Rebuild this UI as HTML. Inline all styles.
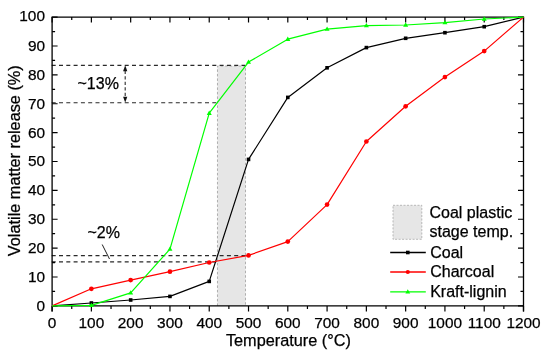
<!DOCTYPE html><html><head><meta charset="utf-8"><title>Volatile matter release</title><style>html,body{margin:0;padding:0;background:#fff}svg{display:block}text{font-family:"Liberation Sans", Arial, sans-serif;fill:#000;stroke:#000;stroke-width:0.25px}</style></head><body>
<svg width="550" height="356" viewBox="0 0 550 356">
<rect width="550" height="356" fill="#fff"/>
<rect x="217.48" y="66.05" width="28.01" height="239.85" fill="#e6e6e6"/>
<path d="M217.48 305.90V66.05H245.49V305.90" stroke="#a6a6a6" stroke-width="0.9" stroke-dasharray="2.5 2" fill="none"/>
<path d="M51.70 65.33H245.49" stroke="#2a2a2a" stroke-width="1.15" stroke-dasharray="4 3.3" fill="none"/>
<path d="M51.70 102.70H217.48" stroke="#2a2a2a" stroke-width="1.15" stroke-dasharray="4 3.3" fill="none"/>
<path d="M51.70 255.65H248.52" stroke="#2a2a2a" stroke-width="1.15" stroke-dasharray="4 3.3" fill="none"/>
<path d="M51.70 261.86H216.30" stroke="#2a2a2a" stroke-width="1.15" stroke-dasharray="4 3.3" fill="none"/>
<path d="M125.20 70.83V97.58" stroke="#333" stroke-width="1.15" stroke-dasharray="3.2 2.3" fill="none"/>
<path d="M125.20 65.33l-2.1 5.8h4.2z" fill="#111"/>
<path d="M125.20 102.58l-2.1 -5.8h4.2z" fill="#111"/>
<text x="77.5" y="89.3" font-size="16">~13%</text>
<text x="87.5" y="237.5" font-size="16">~2%</text>
<path d="M102.2 244.5L109.5 259" stroke="#222" stroke-width="1" fill="none"/>
<path d="M52.10 16.45V311.40M523.50 16.45V311.40M52.10 17.10H523.50M52.10 305.90H523.50" stroke="#000" stroke-width="1.3" fill="none"/>
<path d="M52.10 305.90v5.50M52.10 17.10v5.50M71.74 305.90v3.00M71.74 17.10v3.00M91.38 305.90v5.50M91.38 17.10v5.50M111.03 305.90v3.00M111.03 17.10v3.00M130.67 305.90v5.50M130.67 17.10v5.50M150.31 305.90v3.00M150.31 17.10v3.00M169.95 305.90v5.50M169.95 17.10v5.50M189.59 305.90v3.00M189.59 17.10v3.00M209.23 305.90v5.50M209.23 17.10v5.50M228.88 305.90v3.00M228.88 17.10v3.00M248.52 305.90v5.50M248.52 17.10v5.50M268.16 305.90v3.00M268.16 17.10v3.00M287.80 305.90v5.50M287.80 17.10v5.50M307.44 305.90v3.00M307.44 17.10v3.00M327.08 305.90v5.50M327.08 17.10v5.50M346.73 305.90v3.00M346.73 17.10v3.00M366.37 305.90v5.50M366.37 17.10v5.50M386.01 305.90v3.00M386.01 17.10v3.00M405.65 305.90v5.50M405.65 17.10v5.50M425.29 305.90v3.00M425.29 17.10v3.00M444.93 305.90v5.50M444.93 17.10v5.50M464.58 305.90v3.00M464.58 17.10v3.00M484.22 305.90v5.50M484.22 17.10v5.50M503.86 305.90v3.00M503.86 17.10v3.00M523.50 305.90v5.50M523.50 17.10v5.50M52.10 305.90h5.50M523.50 305.90h-5.50M52.10 291.46h3.00M523.50 291.46h-3.00M52.10 277.02h5.50M523.50 277.02h-5.50M52.10 262.58h3.00M523.50 262.58h-3.00M52.10 248.14h5.50M523.50 248.14h-5.50M52.10 233.70h3.00M523.50 233.70h-3.00M52.10 219.26h5.50M523.50 219.26h-5.50M52.10 204.82h3.00M523.50 204.82h-3.00M52.10 190.38h5.50M523.50 190.38h-5.50M52.10 175.94h3.00M523.50 175.94h-3.00M52.10 161.50h5.50M523.50 161.50h-5.50M52.10 147.06h3.00M523.50 147.06h-3.00M52.10 132.62h5.50M523.50 132.62h-5.50M52.10 118.18h3.00M523.50 118.18h-3.00M52.10 103.74h5.50M523.50 103.74h-5.50M52.10 89.30h3.00M523.50 89.30h-3.00M52.10 74.86h5.50M523.50 74.86h-5.50M52.10 60.42h3.00M523.50 60.42h-3.00M52.10 45.98h5.50M523.50 45.98h-5.50M52.10 31.54h3.00M523.50 31.54h-3.00M52.10 17.10h5.50M523.50 17.10h-5.50" stroke="#000" stroke-width="1.2" fill="none"/>
<polyline points="52.10,305.90 91.38,303.00 130.67,300.00 169.95,296.40 209.23,281.40 248.52,159.40 287.80,97.40 327.08,67.80 366.37,47.60 405.65,38.30 444.93,32.70 484.22,26.70 523.50,17.10" fill="none" stroke="#000" stroke-width="1.2" stroke-linejoin="round"/>
<rect x="89.58" y="301.20" width="3.6" height="3.6" fill="#000"/>
<rect x="128.87" y="298.20" width="3.6" height="3.6" fill="#000"/>
<rect x="168.15" y="294.60" width="3.6" height="3.6" fill="#000"/>
<rect x="207.43" y="279.60" width="3.6" height="3.6" fill="#000"/>
<rect x="246.72" y="157.60" width="3.6" height="3.6" fill="#000"/>
<rect x="286.00" y="95.60" width="3.6" height="3.6" fill="#000"/>
<rect x="325.28" y="66.00" width="3.6" height="3.6" fill="#000"/>
<rect x="364.57" y="45.80" width="3.6" height="3.6" fill="#000"/>
<rect x="403.85" y="36.50" width="3.6" height="3.6" fill="#000"/>
<rect x="443.13" y="30.90" width="3.6" height="3.6" fill="#000"/>
<rect x="482.42" y="24.90" width="3.6" height="3.6" fill="#000"/>
<polyline points="52.10,305.90 91.38,288.80 130.67,280.10 169.95,271.70 209.23,262.50 248.52,255.40 287.80,241.60 327.08,204.60 366.37,141.50 405.65,106.30 444.93,77.10 484.22,51.10 523.50,17.10" fill="none" stroke="#ff0000" stroke-width="1.2" stroke-linejoin="round"/>
<circle cx="91.38" cy="288.80" r="2.35" fill="#ff0000"/>
<circle cx="130.67" cy="280.10" r="2.35" fill="#ff0000"/>
<circle cx="169.95" cy="271.70" r="2.35" fill="#ff0000"/>
<circle cx="209.23" cy="262.50" r="2.35" fill="#ff0000"/>
<circle cx="248.52" cy="255.40" r="2.35" fill="#ff0000"/>
<circle cx="287.80" cy="241.60" r="2.35" fill="#ff0000"/>
<circle cx="327.08" cy="204.60" r="2.35" fill="#ff0000"/>
<circle cx="366.37" cy="141.50" r="2.35" fill="#ff0000"/>
<circle cx="405.65" cy="106.30" r="2.35" fill="#ff0000"/>
<circle cx="444.93" cy="77.10" r="2.35" fill="#ff0000"/>
<circle cx="484.22" cy="51.10" r="2.35" fill="#ff0000"/>
<polyline points="52.10,305.90 91.38,305.40 130.67,292.90 169.95,249.10 209.23,113.20 248.52,62.10 287.80,39.20 327.08,29.10 366.37,25.60 405.65,25.00 444.93,22.60 484.22,19.00 523.50,17.10" fill="none" stroke="#00ff00" stroke-width="1.2" stroke-linejoin="round"/>
<path d="M91.38 302.70l2.5 4.4h-5z" fill="#00ff00"/>
<path d="M130.67 290.20l2.5 4.4h-5z" fill="#00ff00"/>
<path d="M169.95 246.40l2.5 4.4h-5z" fill="#00ff00"/>
<path d="M209.23 110.50l2.5 4.4h-5z" fill="#00ff00"/>
<path d="M248.52 59.40l2.5 4.4h-5z" fill="#00ff00"/>
<path d="M287.80 36.50l2.5 4.4h-5z" fill="#00ff00"/>
<path d="M327.08 26.40l2.5 4.4h-5z" fill="#00ff00"/>
<path d="M366.37 22.90l2.5 4.4h-5z" fill="#00ff00"/>
<path d="M405.65 22.30l2.5 4.4h-5z" fill="#00ff00"/>
<path d="M444.93 19.90l2.5 4.4h-5z" fill="#00ff00"/>
<path d="M484.22 16.30l2.5 4.4h-5z" fill="#00ff00"/>
<text x="52.10" y="328" font-size="15.4" text-anchor="middle">0</text>
<text x="91.38" y="328" font-size="15.4" text-anchor="middle">100</text>
<text x="130.67" y="328" font-size="15.4" text-anchor="middle">200</text>
<text x="169.95" y="328" font-size="15.4" text-anchor="middle">300</text>
<text x="209.23" y="328" font-size="15.4" text-anchor="middle">400</text>
<text x="248.52" y="328" font-size="15.4" text-anchor="middle">500</text>
<text x="287.80" y="328" font-size="15.4" text-anchor="middle">600</text>
<text x="327.08" y="328" font-size="15.4" text-anchor="middle">700</text>
<text x="366.37" y="328" font-size="15.4" text-anchor="middle">800</text>
<text x="405.65" y="328" font-size="15.4" text-anchor="middle">900</text>
<text x="444.93" y="328" font-size="15.4" text-anchor="middle">1000</text>
<text x="484.22" y="328" font-size="15.4" text-anchor="middle">1100</text>
<text x="523.50" y="328" font-size="15.4" text-anchor="middle">1200</text>
<text x="45.0" y="311.00" font-size="15.4" text-anchor="end">0</text>
<text x="45.0" y="282.00" font-size="15.4" text-anchor="end">10</text>
<text x="45.0" y="253.00" font-size="15.4" text-anchor="end">20</text>
<text x="45.0" y="224.00" font-size="15.4" text-anchor="end">30</text>
<text x="45.0" y="195.00" font-size="15.4" text-anchor="end">40</text>
<text x="45.0" y="166.00" font-size="15.4" text-anchor="end">50</text>
<text x="45.0" y="138.00" font-size="15.4" text-anchor="end">60</text>
<text x="45.0" y="109.00" font-size="15.4" text-anchor="end">70</text>
<text x="45.0" y="80.00" font-size="15.4" text-anchor="end">80</text>
<text x="45.0" y="51.00" font-size="15.4" text-anchor="end">90</text>
<text x="45.0" y="21.00" font-size="15.4" text-anchor="end">100</text>
<text x="288.4" y="346" font-size="16.3" text-anchor="middle">Temperature (°C)</text>
<text transform="translate(19.9 160.7) rotate(-90)" font-size="16.3" text-anchor="middle">Volatile matter release (%)</text>
<rect x="393" y="205.3" width="28.8" height="34" fill="#e6e6e6" stroke="#a8a8a8" stroke-width="0.8" stroke-dasharray="2 1.5"/>
<text x="429.5" y="217.6" font-size="16">Coal plastic</text>
<text x="429.5" y="236.5" font-size="16">stage temp.</text>
<path d="M390.2 252.50H425.8" stroke="#000" stroke-width="1.3" fill="none"/>
<rect x="406.00" y="250.70" width="3.6" height="3.6" fill="#000"/>
<text x="430.2" y="257.50" font-size="16">Coal</text>
<path d="M390.2 272.00H425.8" stroke="#ff0000" stroke-width="1.3" fill="none"/>
<circle cx="407.8" cy="272.00" r="2.1" fill="#ff0000"/>
<text x="430.2" y="277.30" font-size="16">Charcoal</text>
<path d="M390.2 291.80H425.8" stroke="#00ff00" stroke-width="1.3" fill="none"/>
<path d="M407.8 289.20l2.4 4.2h-4.8z" fill="#00ff00"/>
<text x="430.2" y="296.80" font-size="16">Kraft-lignin</text>
</svg></body></html>
